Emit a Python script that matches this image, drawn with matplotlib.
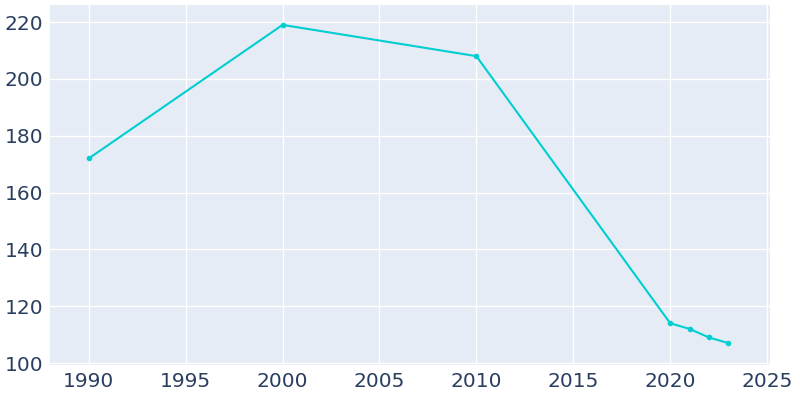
import matplotlib
matplotlib.use("Agg")
import matplotlib.pyplot as plt

years = [1990, 2000, 2010, 2020, 2021, 2022, 2023]
population = [172, 219, 208, 114, 112, 109, 107]

fig = plt.figure(figsize=(8, 4), dpi=100)
ax = fig.add_axes([50 / 800, 35 / 400, 720 / 800, 360 / 400])
ax.set_facecolor("#E5ECF6")
ax.plot(years, population, color="#00CED1", linewidth=1.5, marker="o", markersize=3)
ax.set_xlim(1988.0, 2025.15)
ax.set_ylim(99.3, 226)
ax.set_xticks(range(1990, 2026, 5))
ax.set_yticks(range(100, 221, 20))
ax.grid(True, color="white", linewidth=1)
ax.set_axisbelow(True)
for s in ax.spines.values():
    s.set_visible(False)
ax.tick_params(length=0, labelsize=14.5, colors="#2a3f5f", pad=5)
fig.savefig("out.png", dpi=100)
